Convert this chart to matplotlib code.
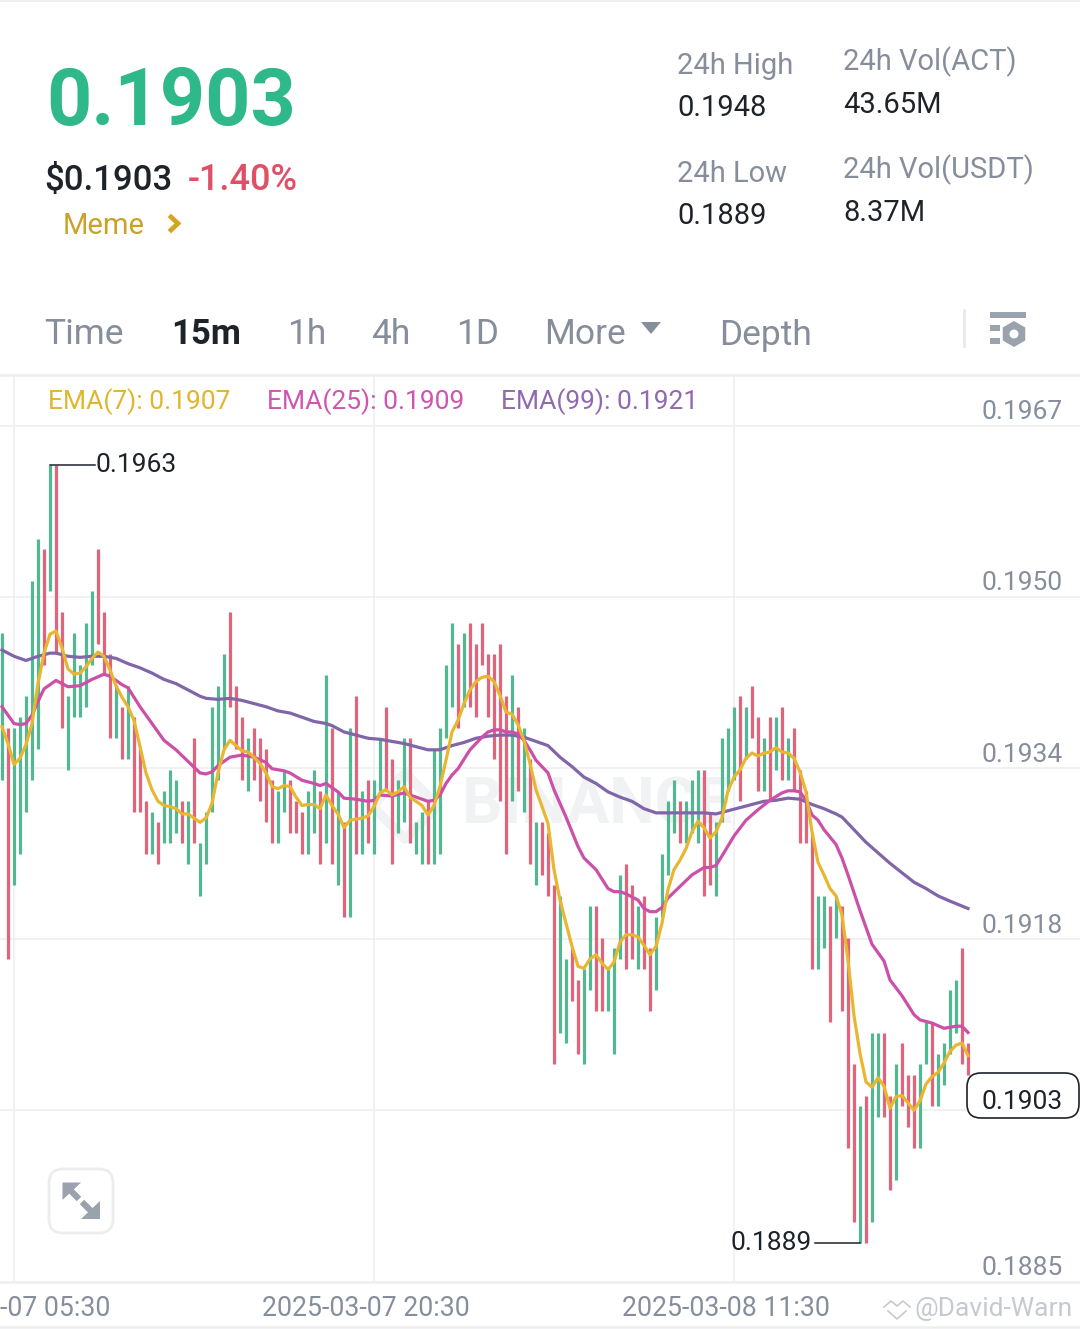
import numpy as np
import matplotlib
matplotlib.use('Agg')
import matplotlib.pyplot as plt
from matplotlib.patches import FancyBboxPatch, Polygon, Rectangle, Circle

plt.rcParams['font.family'] = ['Roboto', 'DejaVu Sans']

# 15m candles, prices in 0.0001 steps
candle_high = np.array([
    1947, 1938, 1938, 1939, 1941, 1952, 1956, 1955, 1963, 1963,
    1949, 1941, 1947, 1944, 1948, 1951, 1955, 1949, 1945, 1942,
    1940, 1942, 1939, 1936, 1931, 1930, 1929, 1932, 1934, 1933,
    1931, 1931, 1937, 1927, 1930, 1940, 1942, 1945, 1949, 1942,
    1939, 1937, 1938, 1937, 1936, 1933, 1932, 1934, 1933, 1931,
    1930, 1932, 1934, 1932, 1943, 1938, 1932, 1929, 1938, 1941,
    1932, 1933, 1933, 1937, 1940, 1935, 1933, 1937, 1937, 1929,
    1930, 1931, 1936, 1938, 1944, 1948, 1946, 1947, 1948, 1946,
    1948, 1945, 1945, 1946, 1941, 1943, 1940, 1938, 1935, 1929,
    1929, 1928, 1923, 1922, 1916, 1917, 1914, 1915, 1921, 1921,
    1918, 1915, 1917, 1924, 1925, 1923, 1921, 1922, 1917, 1920,
    1926, 1931, 1933, 1931, 1931, 1933, 1934, 1934, 1930, 1929,
    1937, 1938, 1940, 1941, 1940, 1942, 1939, 1937, 1939, 1939,
    1940, 1937, 1938, 1934, 1932, 1928, 1922, 1922, 1921, 1922,
    1921, 1918, 1906, 1902, 1903, 1909, 1909, 1909, 1903, 1906,
    1908, 1905, 1905, 1906, 1910, 1910, 1907, 1908, 1913, 1914,
    1917, 1908]) / 10000
candle_low = np.array([
    1933, 1916, 1923, 1926, 1930, 1933, 1936, 1944, 1951, 1945,
    1938, 1934, 1939, 1939, 1940, 1944, 1946, 1943, 1937, 1937,
    1935, 1935, 1930, 1930, 1926, 1926, 1925, 1927, 1927, 1928,
    1927, 1925, 1927, 1922, 1925, 1930, 1933, 1936, 1940, 1936,
    1933, 1932, 1933, 1931, 1929, 1927, 1927, 1930, 1928, 1928,
    1926, 1926, 1928, 1925, 1927, 1925, 1923, 1920, 1920, 1926,
    1926, 1927, 1926, 1932, 1932, 1925, 1928, 1929, 1927, 1926,
    1925, 1925, 1925, 1926, 1937, 1940, 1938, 1940, 1940, 1939,
    1944, 1939, 1935, 1931, 1926, 1931, 1932, 1930, 1925, 1923,
    1924, 1922, 1906, 1909, 1908, 1912, 1907, 1906, 1913, 1911,
    1911, 1911, 1907, 1916, 1915, 1916, 1915, 1915, 1911, 1913,
    1920, 1924, 1928, 1927, 1927, 1928, 1927, 1922, 1923, 1922,
    1929, 1932, 1933, 1931, 1935, 1937, 1932, 1932, 1931, 1934,
    1933, 1933, 1932, 1927, 1927, 1915, 1915, 1917, 1910, 1918,
    1911, 1898, 1891, 1889, 1889, 1891, 1901, 1901, 1894, 1895,
    1902, 1900, 1898, 1898, 1906, 1902, 1902, 1904, 1907, 1909,
    1906, 1905]) / 10000
candle_dir = (
    "GRGGGGGRGR" "RGGGGGRRRG" "RGRRRGRGGG" "RGRGGGGGRR"
    "RGRRRRGGRR" "RGGRGRGRGR" "GRGGRRGGRG" "GRGGGGRGRR"
    "RRRRRGRGRG" "RRRGGRRGGR" "RGGGRRGRRG" "GGGRGGGRRG"
    "GGGRGRRGRG" "RGRRRRGGRG" "RRRGRGGRRG" "RRRGGRGGGG"
    "RR")

# EMA(7) for every candle, prices in 0.00001 steps
ema7 = np.array([
    19381, 19365, 19345, 19351, 19364, 19384, 19422, 19451, 19469, 19472,
    19456, 19436, 19431, 19432, 19438, 19446, 19452, 19448, 19435, 19420,
    19409, 19400, 19387, 19362, 19337, 19321, 19310, 19306, 19305, 19303,
    19298, 19298, 19294, 19290, 19294, 19308, 19337, 19359, 19368, 19363,
    19358, 19357, 19352, 19346, 19337, 19324, 19322, 19325, 19324, 19314,
    19306, 19307, 19307, 19303, 19316, 19306, 19298, 19285, 19292, 19293,
    19294, 19296, 19305, 19318, 19321, 19316, 19319, 19324, 19314, 19310,
    19306, 19297, 19306, 19324, 19349, 19376, 19387, 19403, 19416, 19424,
    19428, 19429, 19424, 19411, 19395, 19393, 19383, 19368, 19346, 19321,
    19305, 19289, 19245, 19216, 19194, 19172, 19153, 19151, 19160, 19164,
    19156, 19150, 19157, 19176, 19183, 19183, 19181, 19173, 19164, 19172,
    19194, 19226, 19245, 19254, 19265, 19281, 19291, 19285, 19275, 19281,
    19294, 19320, 19333, 19340, 19351, 19356, 19353, 19356, 19357, 19361,
    19357, 19356, 19351, 19338, 19319, 19281, 19252, 19240, 19227, 19220,
    19202, 19159, 19106, 19070, 19043, 19038, 19047, 19039, 19018, 19029,
    19030, 19023, 19016, 19025, 19041, 19048, 19052, 19061, 19072, 19078,
    19080, 19068]) / 100000

# EMA(25), read at the bends
ema25_x = [0, 2, 3, 4, 5, 6, 7, 9, 10, 11, 13, 15, 17, 18, 20, 21, 23, 25, 27, 29,
           31, 33, 34, 35, 36, 38, 40, 42, 44, 45, 47, 48, 50, 52, 53, 54, 55, 56, 57, 59,
           61, 62, 63, 65, 67, 69, 71, 72, 73, 74, 75, 76, 78, 80, 81, 82, 83, 84, 85, 86,
           87, 88, 89, 91, 92, 94, 96, 97, 99, 101, 102, 103, 104, 106, 107, 108, 109, 110, 111, 113,
           115, 117, 118, 119, 120, 122, 124, 126, 128, 130, 131, 132, 133, 134, 135, 136, 137, 139, 140, 141,
           143, 145, 147, 148, 150, 152, 153, 155, 157, 159, 160, 161]
ema25 = np.array([
    19400, 19384, 19383, 19384, 19392, 19405, 19417, 19425, 19422, 19419,
    19420, 19426, 19431, 19429, 19421, 19418, 19400, 19384, 19368, 19359,
    19348, 19337, 19336, 19338, 19344, 19352, 19354, 19352, 19347, 19341,
    19339, 19337, 19330, 19327, 19325, 19327, 19323, 19319, 19313, 19312,
    19310, 19311, 19316, 19315, 19318, 19314, 19310, 19311, 19316, 19327,
    19335, 19341, 19359, 19371, 19376, 19378, 19378, 19376, 19376, 19374,
    19368, 19359, 19349, 19337, 19321, 19295, 19267, 19256, 19245, 19227,
    19224, 19224, 19222, 19216, 19208, 19205, 19205, 19209, 19218, 19229,
    19240, 19247, 19247, 19249, 19258, 19277, 19292, 19302, 19311, 19318,
    19320, 19320, 19319, 19311, 19297, 19292, 19283, 19269, 19256, 19240,
    19206, 19174, 19158, 19140, 19125, 19107, 19102, 19099, 19094, 19096,
    19096, 19090]) / 100000

# EMA(99), read every two candles
ema99_x = [0, 2, 4, 6, 8, 9, 11, 13, 15, 17, 19, 21, 23, 25, 27, 29, 31, 33, 34, 36,
           38, 40, 42, 44, 46, 48, 50, 52, 54, 55, 57, 59, 61, 63, 65, 67, 69, 71, 73, 75,
           77, 79, 81, 83, 85, 87, 89, 91, 93, 95, 97, 99, 101, 103, 105, 107, 109, 111, 113, 115,
           117, 119, 121, 123, 125, 127, 129, 131, 133, 135, 137, 139, 140, 142, 144, 146, 148, 150, 152, 154,
           156, 158, 161]
ema99 = np.array([
    19454, 19448, 19444, 19448, 19451, 19451, 19448, 19447, 19448, 19448,
    19446, 19441, 19437, 19432, 19426, 19422, 19416, 19410, 19408, 19407,
    19408, 19406, 19403, 19400, 19396, 19394, 19390, 19386, 19384, 19382,
    19376, 19373, 19370, 19369, 19367, 19365, 19362, 19359, 19359, 19363,
    19366, 19370, 19372, 19373, 19373, 19371, 19367, 19363, 19352, 19343,
    19333, 19327, 19319, 19314, 19310, 19303, 19299, 19299, 19299, 19299,
    19299, 19298, 19301, 19304, 19307, 19310, 19311, 19313, 19312, 19307,
    19303, 19298, 19295, 19283, 19271, 19261, 19251, 19242, 19233, 19227,
    19220, 19215, 19208]) / 100000

price_ticks = [0.19667, 0.19504, 0.19342, 0.19179, 0.19016, 0.18853]
price_labels = ['0.1967', '0.1950', '0.1934', '0.1918', '0.1885']
time_ticks = [2, 62, 122]
time_labels = ['-07 05:30', '2025-03-07 20:30', '2025-03-08 11:30']

GREEN = '#53B892'
RED = '#E2647B'
GREY = '#878E9B'
DARK = '#1E2329'
GRID = '#EEEFF1'
ICON = '#9AA2AE'
FAINT = '#F1F2F3'

fig = plt.figure(figsize=(10.8, 13.29), dpi=100, facecolor='white')

# exchange logo sits under the chart
bg = fig.add_axes([0, 0, 1, 1], zorder=0)
bg.set_xlim(0, 1080)
bg.set_ylim(1329, 0)
bg.axis('off')
bg.text(597, 806, 'BINANCE', ha='center', va='center', fontsize=46, fontweight='bold', color=FAINT)
bg.plot([372, 405, 438, 405, 372], [806, 773, 806, 839, 806], color=FAINT, linewidth=7)

# chart area spans y 376..1282 px, one candle is 6 px wide
ax = fig.add_axes([0, 1 - 1282 / 1329, 1, 906 / 1329], facecolor='none', zorder=1)
ax.set_xlim(-1 / 3, 1078 / 6)
ax.set_ylim(0.188526, 0.197147)
for s in ax.spines.values():
    s.set_visible(False)
ax.set_xticks(time_ticks)
ax.set_yticks(price_ticks)
ax.tick_params(length=0, labelbottom=False, labelleft=False)
ax.grid(True, color=GRID, linewidth=1.2)
ax.set_axisbelow(True)

x = np.arange(len(candle_high))
colors = [GREEN if d == 'G' else RED for d in candle_dir]
ax.vlines(x, candle_low, candle_high, colors=colors, linewidth=2.3, zorder=2)

ax.plot(ema99_x, ema99, color='#8066A8', linewidth=2.3, zorder=3)
ax.plot(ema25_x, ema25, color='#CC50A8', linewidth=2.3, zorder=4)
ax.plot(x, ema7, color='#E8B630', linewidth=2.3, zorder=5)

# high / low markers
ax.plot([8, 15.5], [0.1963, 0.1963], color=DARK, linewidth=1.1, zorder=6)
ax.text(15.6, 0.1963, '0.1963', fontsize=19, color=DARK, va='center', zorder=6)
ax.plot([135.5, 143], [0.1889, 0.1889], color=DARK, linewidth=1.1, zorder=6)
ax.text(135, 0.1889, '0.1889', fontsize=19, color=DARK, ha='right', va='center', zorder=6)

# everything else on the screen, in pixels
ui = fig.add_axes([0, 0, 1, 1], facecolor='none', zorder=10)
ui.set_xlim(0, 1080)
ui.set_ylim(1329, 0)
ui.axis('off')

for yy, lbl in zip([412, 583, 755, 926, 1268], price_labels):
    ui.text(1063, yy, lbl, fontsize=19, color=GREY, ha='right', va='center')
for lbl, xx in zip(time_labels, [0, 262, 622]):
    ui.text(xx, 1308, lbl, fontsize=19.2, color=GREY, ha='left', va='center')

ui.plot([0, 1080], [1, 1], color=GRID, linewidth=1.5)
ui.add_patch(Rectangle((72, 0), 44, 2, color='#F0B90B', linewidth=0))
ui.plot([0, 1080], [375, 375], color=GRID, linewidth=1.8)
ui.plot([0, 1080], [1282, 1282], color=GRID, linewidth=1.8)
ui.plot([0, 1080], [1327, 1327], color=GRID, linewidth=1.8)

# header
ui.text(46, 103, '0.1903', fontsize=57, fontweight='bold', color='#2FB98A', va='center')
ui.text(44, 180, '$0.1903', fontsize=25, fontweight='medium', color=DARK, va='center')
ui.text(188, 180, '-1.40%', fontsize=26, fontweight='medium', color='#DD5065', va='center')
ui.text(63, 226, 'Meme', fontsize=21, color='#C9A227', va='center')
ui.plot([171, 178, 171], [217, 223.5, 230], color='#D4A520', linewidth=3.4, solid_joinstyle='miter')

for xx, yy, lbl, col in [(677, 66, '24h High', GREY), (677, 108, '0.1948', DARK),
                         (677, 174, '24h Low', GREY), (677, 216, '0.1889', DARK),
                         (843, 62, '24h Vol(ACT)', GREY), (843, 105, '43.65M', DARK),
                         (843, 170, '24h Vol(USDT)', GREY), (843, 213, '8.37M', DARK)]:
    ui.text(xx, yy, lbl, fontsize=21, color=col, va='center')

# interval tabs
for xx, lbl in [(44, 'Time'), (287, '1h'), (371, '4h'), (456, '1D'), (544, 'More'), (719, 'Depth')]:
    ui.text(xx, 335, lbl, fontsize=25.5, color=GREY, va='center')
ui.text(171, 335, '15m', fontsize=25, fontweight='bold', color=DARK, va='center')
ui.add_patch(Polygon([[641, 322], [661, 322], [651, 334]], color=GREY, linewidth=0))
ui.plot([964, 964], [310, 346], color='#E6E8EA', linewidth=2)

# settings icon
ui.add_patch(Rectangle((990, 312), 36, 6, color=ICON, linewidth=0))
ui.add_patch(Rectangle((990, 325), 10, 6, color=ICON, linewidth=0))
ui.add_patch(Rectangle((990, 338), 10, 6, color=ICON, linewidth=0))
ang = np.radians(np.arange(30, 390, 60))
ui.add_patch(Polygon(np.c_[1014 + 13 * np.cos(ang), 334 + 13 * np.sin(ang)], color=ICON, linewidth=0))
ui.add_patch(Circle((1014, 334), 4.5, color='white', linewidth=0))

# legend row
ui.text(48, 402, 'EMA(7): 0.1907', fontsize=19, color='#E0B62E', va='center')
ui.text(267, 402, 'EMA(25): 0.1909', fontsize=19, color='#CF55B0', va='center')
ui.text(501, 402, 'EMA(99): 0.1921', fontsize=19, color='#9069B0', va='center')

# current price tag
ui.add_patch(FancyBboxPatch((975, 1081), 96, 29, boxstyle='round,pad=8,rounding_size=14',
                            facecolor='white', edgecolor=DARK, linewidth=1.2, zorder=8))
ui.text(1063, 1102, '0.1903', fontsize=19, color=DARK, ha='right', va='center', zorder=9)

# expand button
ui.add_patch(FancyBboxPatch((57, 1177), 48, 48, boxstyle='round,pad=8,rounding_size=14',
                            facecolor='white', edgecolor='#ECEDEF', linewidth=2))
ui.add_patch(Polygon([[62.5, 1182.5], [81, 1182.5], [62.5, 1200]], color=ICON, linewidth=0))
ui.plot([70, 79], [1190, 1199], color=ICON, linewidth=4.5, solid_capstyle='butt')
ui.add_patch(Polygon([[99.5, 1201], [99.5, 1219], [81, 1219]], color=ICON, linewidth=0))
ui.plot([82, 92], [1202, 1212], color=ICON, linewidth=4.5, solid_capstyle='butt')

# author watermark
ui.plot([884, 891, 897, 903, 910], [1307, 1301, 1306, 1301, 1307], color='#C6CAD0', linewidth=1.2)
ui.plot([888, 897, 906], [1311, 1319, 1311], color='#C6CAD0', linewidth=1.2)
ui.text(915, 1309, '@David-Warn', fontsize=19, color='#C6CAD0', va='center')

fig.savefig('out.png', dpi=100)
